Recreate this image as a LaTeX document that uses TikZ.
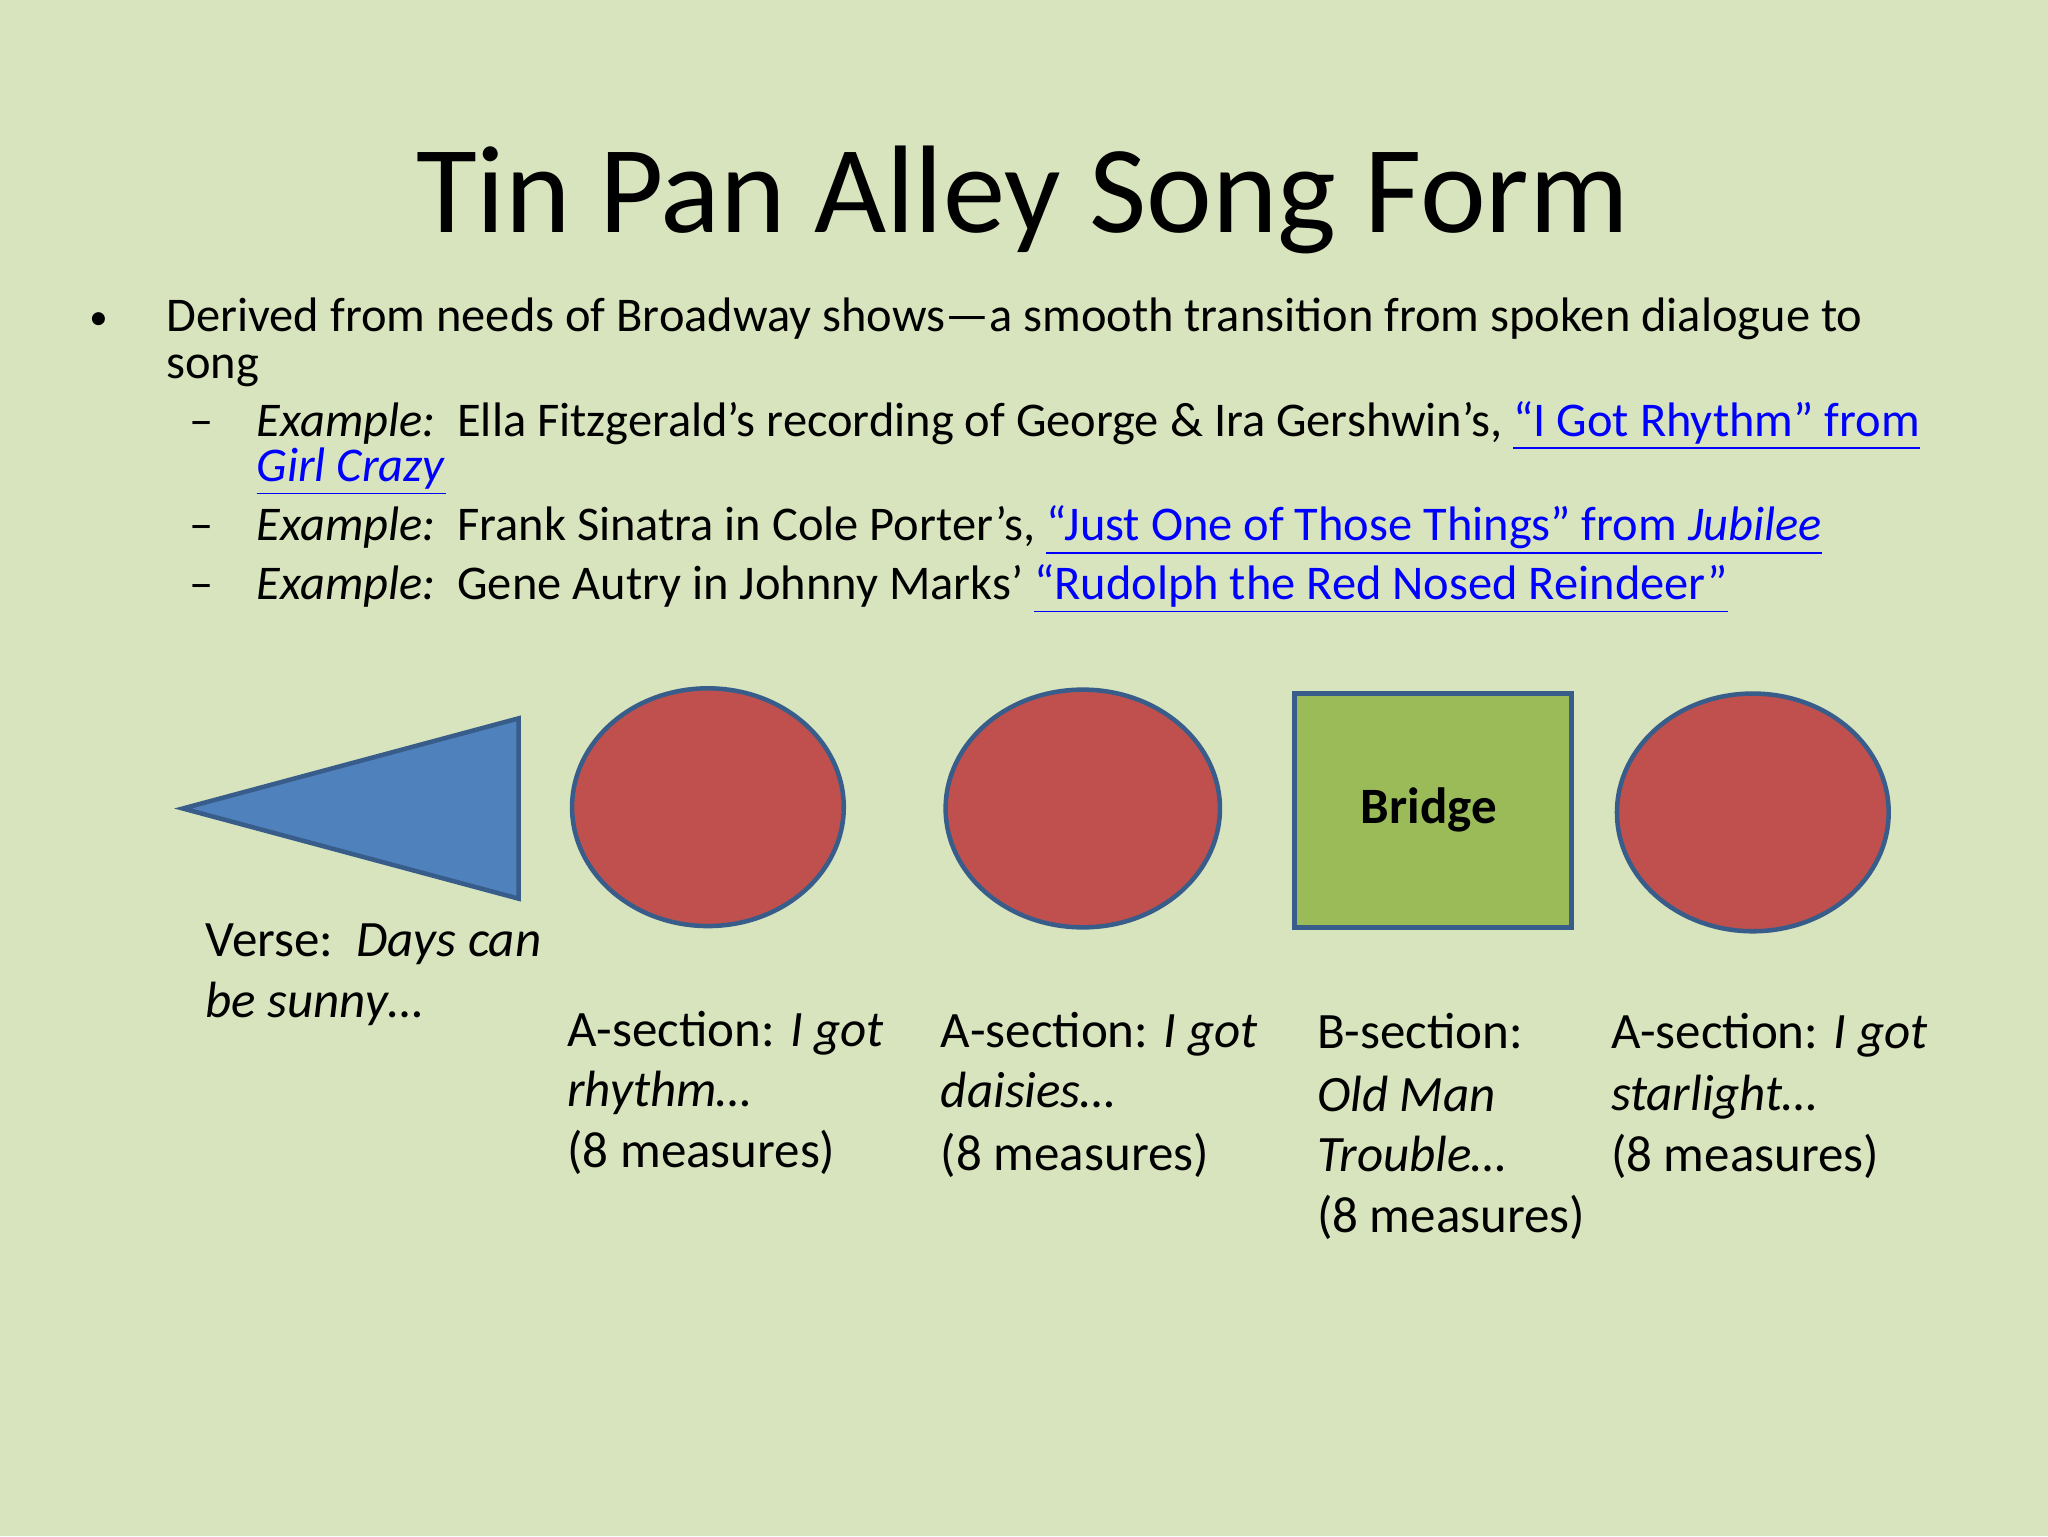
\documentclass[tikz,border=0pt]{standalone}
\usepackage{fontspec}
\setmainfont{Carlito}
\definecolor{bg}{HTML}{D7E4BD}
\definecolor{tri}{HTML}{4F81BD}
\definecolor{edge}{HTML}{385D8A}
\definecolor{red1}{HTML}{C0504D}
\definecolor{grn}{HTML}{9BBB59}
\definecolor{lnk}{HTML}{0000FF}
\newcommand{\lk}[1]{\textcolor{lnk}{\underline{#1}}}
\begin{document}
\begin{tikzpicture}[x=0.0162cm,y=-0.0162cm,
  tx/.style={anchor=base west,inner sep=0pt,font=\fontsize{17.1}{20}\selectfont},
  lb/.style={anchor=base west,inner sep=0pt,font=\fontsize{18}{22}\selectfont},
  shp/.style={draw=edge,line width=1.6pt}]
\fill[bg] (0,0) rectangle (1568,1176);
\useasboundingbox (0,0) rectangle (1568,1176);
\node[anchor=base,inner sep=0pt,font=\fontsize{44}{50}\selectfont] (title) at (783,178) {Tin Pan Alley Song Form};
\node[tx,font=\fontsize{13}{16}\selectfont] (b0) at (68,252) {•};
\node[tx] (l1) at (127,254) {Derived from needs of Broadway shows—a smooth transition from spoken dialogue to};
\node[tx] (l2) at (127,290) {song};
\node[tx] (d1) at (145,334) {–};
\node[tx] (l3) at (196,334) {\textit{Example:}\ \ Ella Fitzgerald’s recording of George \& Ira Gershwin’s, \lk{“I Got Rhythm” from}};
\node[tx] (l4) at (196,369) {\lk{\textit{Girl Crazy}}};
\node[tx] (d2) at (145,414) {–};
\node[tx] (l5) at (196,414) {\textit{Example:}\ \ Frank Sinatra in Cole Porter’s, \lk{“Just One of Those Things” from \textit{Jubilee}}};
\node[tx] (d3) at (145,459) {–};
\node[tx] (l6) at (196,459) {\textit{Example:}\ \ Gene Autry in Johnny Marks’ \lk{“Rudolph the Red Nosed Reindeer”}};
% shapes
\filldraw[shp,fill=tri] (140,619) -- (397,550) -- (397,688) -- cycle;
\filldraw[shp,fill=red1] (542,618) ellipse [x radius=104,y radius=91];
\filldraw[shp,fill=red1] (829,619) ellipse [x radius=105,y radius=91];
\filldraw[shp,fill=red1] (1342,622) ellipse [x radius=104,y radius=91];
\filldraw[shp,fill=grn] (991,531) rectangle (1203,710);
\node[font=\bfseries\fontsize{18}{22}\selectfont] (br) at (1094,620) {Bridge};
% labels
\node[lb] (v1) at (157,732) {Verse:\ \ \textit{Days can}};
\node[lb] (v2) at (157,779) {\textit{be sunny…}};
\node[lb] (a1) at (434,801) {A-section: \textit{I got}};
\node[lb] (a2) at (434,847) {\textit{rhythm…}};
\node[lb] (a3) at (434,894) {(8 measures)};
\node[lb] (c1) at (720,802) {A-section: \textit{I got}};
\node[lb] (c2) at (720,848) {\textit{daisies…}};
\node[lb] (c3) at (720,896) {(8 measures)};
\node[lb] (e1) at (1008,803) {B-section:};
\node[lb] (e2) at (1008,851) {\textit{Old Man}};
\node[lb] (e3) at (1008,897) {\textit{Trouble…}};
\node[lb] (e4) at (1008,944) {(8 measures)};
\node[lb] (f1) at (1233,803) {A-section: \textit{I got}};
\node[lb] (f2) at (1233,850) {\textit{starlight…}};
\node[lb] (f3) at (1233,897) {(8 measures)};
\end{tikzpicture}
\end{document}
